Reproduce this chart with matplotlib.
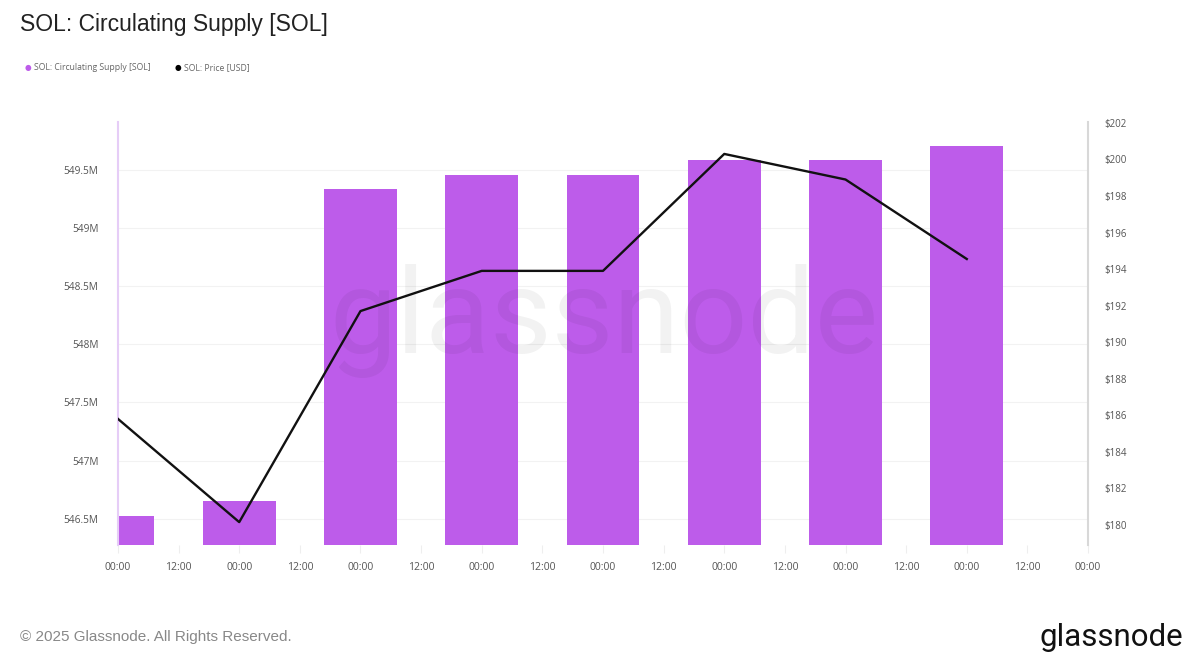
import matplotlib
matplotlib.use("Agg")
import matplotlib.pyplot as plt
from matplotlib.ticker import FuncFormatter, FixedLocator

# ---- data ----
day_index = [0, 1, 2, 3, 4, 5, 6, 7]
supply_m = [546.526, 546.655, 549.336, 549.457, 549.457, 549.586, 549.586, 549.707]
price_usd = [185.8, 180.15, 191.7, 193.9, 193.9, 200.3, 198.9, 194.55]
x_tick_pos = [0, 0.5, 1, 1.5, 2, 2.5, 3, 3.5, 4, 4.5, 5, 5.5, 6, 6.5, 7, 7.5, 8]
x_tick_labels = ["00:00", "12:00"] * 8 + ["00:00"]
supply_ticks = [546.5, 547.0, 547.5, 548.0, 548.5, 549.0, 549.5]
price_ticks = [180, 182, 184, 186, 188, 190, 192, 194, 196, 198, 200, 202]

BAR_COLOR = "#BD5CEA"
TICK_COLOR = "#555555"
FONT = ["Open Sans", "DejaVu Sans"]

fig = plt.figure(figsize=(12, 6.55), dpi=100)
ax = fig.add_axes([0.0983, 0.168, 0.8084, 0.6458])
ax2 = ax.twinx()

ax.bar(day_index, supply_m, width=0.6, color=BAR_COLOR, zorder=2)
ax.set_ylim(546.276, 549.91)
ax.set_xlim(0, 8)
ax.yaxis.set_major_locator(FixedLocator(supply_ticks))
ax.yaxis.set_major_formatter(FuncFormatter(lambda v, p: f"{v:g}M"))
ax.grid(axis="y", color="#f2f2f2", linewidth=0.8, zorder=0)
ax.set_axisbelow(True)

ax2.plot(day_index, price_usd, color="#111111", linewidth=1.7, zorder=3)
ax2.set_ylim(178.9, 202.05)
ax2.yaxis.set_major_locator(FixedLocator(price_ticks))
ax2.yaxis.set_major_formatter(FuncFormatter(lambda v, p: f"${v:g}"))

ax.set_xticks(x_tick_pos)
ax.set_xticklabels(x_tick_labels)

for a in (ax, ax2):
    for s in ("top", "bottom"):
        a.spines[s].set_visible(False)
ax.spines["right"].set_visible(False)
ax2.spines["left"].set_color("#e6cdf7")
ax2.spines["left"].set_linewidth(1.5)
ax2.spines["right"].set_color("#d8d8d8")
ax2.spines["right"].set_linewidth(1.5)
ax.spines["left"].set_visible(False)

ax.tick_params(axis="y", length=0, pad=14, labelsize=7.3, labelcolor=TICK_COLOR)
ax.tick_params(axis="x", length=6, color="#eeeeee", pad=6, labelsize=7.5, labelcolor=TICK_COLOR)
ax2.tick_params(axis="y", length=0, pad=12, labelsize=7, labelcolor=TICK_COLOR)
for lbl in ax.get_xticklabels() + ax.get_yticklabels() + ax2.get_yticklabels():
    lbl.set_family(FONT)

# watermark
fig.text(0.503, 0.51, "glassnode", fontsize=86, color="#000000", alpha=0.05,
         ha="center", va="center", family=["Roboto", "DejaVu Sans"], zorder=10)

# title
fig.text(0.017, 0.962, "SOL: Circulating Supply [SOL]", fontsize=16.5, color="#222222",
         ha="left", va="center", family=["Liberation Sans", "DejaVu Sans"])

# legend
fig.text(0.0235, 0.8975, "\u25CF", fontsize=5.5, color=BAR_COLOR, ha="center", va="center")
fig.text(0.028, 0.8975, "SOL: Circulating Supply [SOL]", fontsize=6.2, color="#666666",
         ha="left", va="center", family=FONT)
fig.text(0.1485, 0.8975, "\u25CF", fontsize=5.5, color="#000000", ha="center", va="center")
fig.text(0.153, 0.8975, "SOL: Price [USD]", fontsize=6.2, color="#666666",
         ha="left", va="center", family=FONT)

# footer
fig.text(0.017, 0.028, "\u00A9 2025 Glassnode. All Rights Reserved.", fontsize=11,
         color="#888888", ha="left", va="center", family=["Liberation Sans", "DejaVu Sans"])
fig.text(0.986, 0.027, "glassnode", fontsize=22.5, color="#111111", ha="right", va="center",
         family=["Roboto", "DejaVu Sans"])

fig.savefig("out.png", dpi=100)
